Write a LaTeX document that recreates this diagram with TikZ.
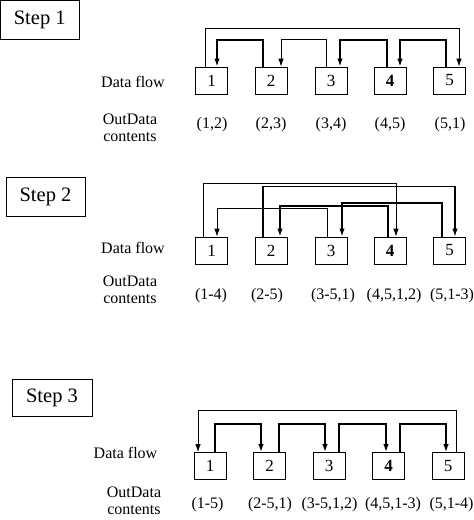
\documentclass[tikz,border=0pt]{standalone}
\usepackage{fontspec}
\setmainfont{Liberation Serif}
\usetikzlibrary{arrows.meta,calc}
\begin{document}
\begin{tikzpicture}[x=1pt,y=-1pt,
  stepbox/.style={draw, line width=0.8pt, inner sep=0pt, font=\fontsize{20.5}{22}\selectfont},
  procbox/.style={draw, line width=0.8pt, minimum width=32pt, minimum height=27pt, inner sep=0pt, font=\fontsize{17}{18}\selectfont},
  lbl/.style={font=\fontsize{16}{17}\selectfont, inner sep=0pt, align=center},
  flow/.style={line width=0.8pt, -{Latex[length=8pt,width=5.5pt]}},
  midflow/.style={flow, line width=1.3pt},
  thickflow/.style={flow, line width=1.8pt}]
\useasboundingbox (0,0) rectangle (474,520);

% ---------- Step 1 ----------
\node[stepbox, minimum width=78.5pt, minimum height=39.5pt] (st1) at (39.75,20) {Step 1};
\node[lbl] (df1) at (133,82) {Data flow};
\node[lbl] (od1) at (130,127.5) {OutData\\contents};
\node[procbox] (a1) at (211.5,80.5) {1};
\node[procbox] (a2) at (271,80.5) {2};
\node[procbox] (a3) at (331,80.5) {3};
\node[procbox] (a4) at (390,80.5) {\textbf{4}};
\node[procbox] (a5) at (449.5,80.5) {5};
\draw[flow] ([xshift=-6.5pt]a1.north) -- ++(0,-38) -| ([xshift=9.5pt]a5.north);
\draw[thickflow] ([xshift=-8pt]a2.north) -- ++(0,-27) -| ([xshift=5.5pt]a1.north);
\draw[flow] ([xshift=-5pt]a3.north) -- ++(0,-27) -| ([xshift=10pt]a2.north);
\draw[thickflow] ([xshift=-3pt]a4.north) -- ++(0,-27) -| ([xshift=9pt]a3.north);
\draw[thickflow] ([xshift=-3.5pt]a5.north) -- ++(0,-27) -| ([xshift=10pt]a4.north);
\node[lbl] (p11) at (212,125) {(1,2)};
\node[lbl] (p12) at (271,125) {(2,3)};
\node[lbl] (p13) at (331,125) {(3,4)};
\node[lbl] (p14) at (390,125) {(4,5)};
\node[lbl] (p15) at (450,125) {(5,1)};

% ---------- Step 2 ----------
\node[stepbox, minimum width=79pt, minimum height=39pt] (st2) at (45.5,196.5) {Step 2};
\node[lbl] (df2) at (133,248) {Data flow};
\node[lbl] (od2) at (130,290) {OutData\\contents};
\node[procbox] (b1) at (211.5,250.5) {1};
\node[procbox] (b2) at (271,250.5) {2};
\node[procbox] (b3) at (331,250.5) {3};
\node[procbox] (b4) at (390,250.5) {\textbf{4}};
\node[procbox] (b5) at (449.5,250.5) {5};
\draw[flow] ([xshift=-8.5pt]b1.north) -- ++(0,-53) -| ([xshift=6pt]b4.north);
\draw[midflow] ([xshift=-8pt]b2.north) -- ++(0,-50) -| ([xshift=5.5pt]b5.north);
\draw[flow] ([xshift=-4pt]b3.north) -- ++(0,-28) -| ([xshift=5.5pt]b1.north);
\draw[thickflow] ([xshift=-2pt]b4.north) -- ++(0,-31) -| ([xshift=9pt]b2.north);
\draw[thickflow] ([xshift=-7.5pt]b5.north) -- ++(0,-34) -| ([xshift=11pt]b3.north);
\node[lbl] (p21) at (211,296) {(1-4)};
\node[lbl] (p22) at (267,296) {(2-5)};
\node[lbl] (p23) at (333,296) {(3-5,1)};
\node[lbl] (p24) at (394,296) {(4,5,1,2)};
\node[lbl] (p25) at (452,296) {(5,1-3)};

% ---------- Step 3 ----------
\node[stepbox, minimum width=80pt, minimum height=37pt] (st3) at (52,397.5) {Step 3};
\node[lbl] (df3) at (125.5,453) {Data flow};
\node[lbl] (od3) at (134,501) {OutData\\contents};
\node[procbox] (c1) at (210,466) {1};
\node[procbox] (c2) at (269.5,466) {2};
\node[procbox] (c3) at (329,466) {3};
\node[procbox] (c4) at (388.5,466) {\textbf{4}};
\node[procbox] (c5) at (448,466) {5};
\draw[flow] ([xshift=8pt]c5.north) -- ++(0,-42) -| ([xshift=-12pt]c1.north);
\draw[thickflow] ([xshift=5pt]c1.north) -- ++(0,-28) -| ([xshift=-8.5pt]c2.north);
\draw[thickflow] ([xshift=9.5pt]c2.north) -- ++(0,-28) -| ([xshift=-4pt]c3.north);
\draw[thickflow] ([xshift=10pt]c3.north) -- ++(0,-28) -| ([xshift=-2.5pt]c4.north);
\draw[midflow] ([xshift=11.5pt]c4.north) -- ++(0,-28) -| ([xshift=-2pt]c5.north);
\node[lbl] (p31) at (207.5,505) {(1-5)};
\node[lbl] (p32) at (270,505) {(2-5,1)};
\node[lbl] (p33) at (329.5,505) {(3-5,1,2)};
\node[lbl] (p34) at (393,505) {(4,5,1-3)};
\node[lbl] (p35) at (451.5,505) {(5,1-4)};
\end{tikzpicture}
\end{document}
